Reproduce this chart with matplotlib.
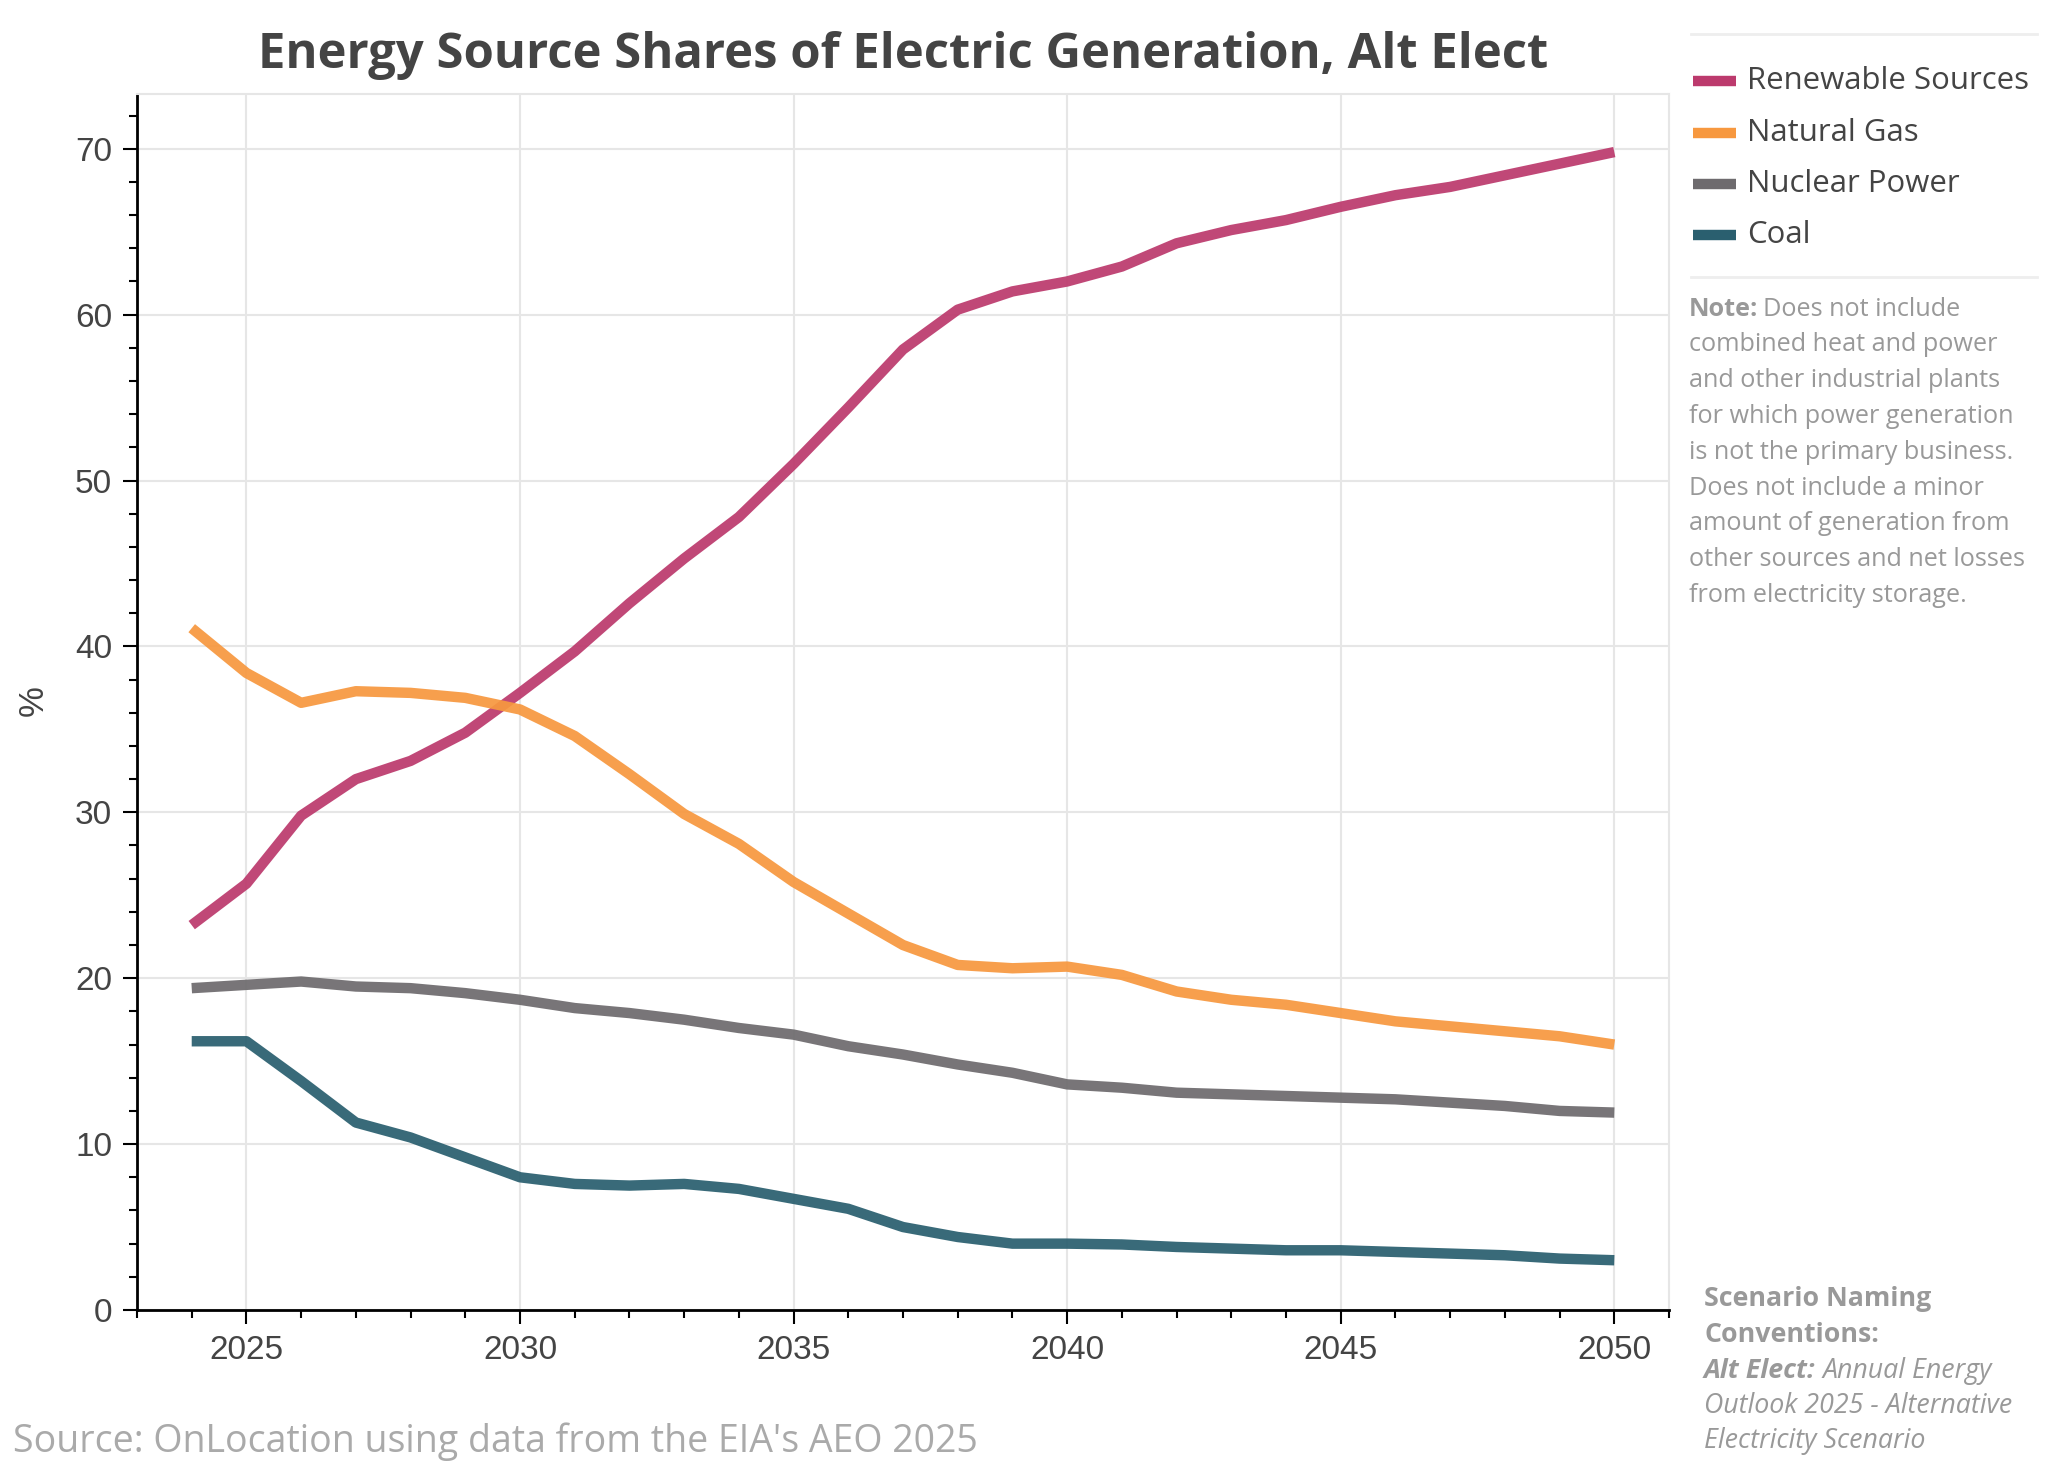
import matplotlib
matplotlib.use("Agg")
import matplotlib.pyplot as plt
from matplotlib.ticker import MultipleLocator

years = list(range(2024, 2051))

renewable = [23.2, 25.7, 29.8, 32.0, 33.1, 34.8, 37.2, 39.7, 42.6, 45.3, 47.8, 51.0, 54.4, 57.9,
             60.3, 61.4, 62.0, 62.9, 64.3, 65.1, 65.7, 66.5, 67.2, 67.7, 68.4, 69.1, 69.8]
natural_gas = [41.1, 38.4, 36.6, 37.3, 37.2, 36.9, 36.2, 34.6, 32.3, 29.9, 28.1, 25.8, 23.9, 22.0,
               20.8, 20.6, 20.7, 20.2, 19.2, 18.7, 18.4, 17.9, 17.4, 17.1, 16.8, 16.5, 16.0]
nuclear = [19.4, 19.6, 19.8, 19.5, 19.4, 19.1, 18.7, 18.2, 17.9, 17.5, 17.0, 16.6, 15.9, 15.4,
           14.8, 14.3, 13.6, 13.4, 13.1, 13.0, 12.9, 12.8, 12.7, 12.5, 12.3, 12.0, 11.9]
coal = [16.2, 16.2, 13.8, 11.3, 10.4, 9.2, 8.0, 7.6, 7.5, 7.6, 7.3, 6.7, 6.1, 5.0,
        4.4, 4.0, 4.0, 3.95, 3.8, 3.7, 3.6, 3.6, 3.5, 3.4, 3.3, 3.1, 3.0]

series_names = ["Renewable Sources", "Natural Gas", "Nuclear Power", "Coal"]
series_colors = ["#bc3a6d", "#f7983f", "#6e6b6e", "#2a5f6f"]

title = "Energy Source Shares of Electric Generation, Alt Elect"
source = "Source: OnLocation using data from the EIA's AEO 2025"
note_lines = ["Does not include", "combined heat and power", "and other industrial plants",
              "for which power generation", "is not the primary business.",
              "Does not include a minor", "amount of generation from",
              "other sources and net losses", "from electricity storage."]

W, H = 2048, 1474
fig = plt.figure(figsize=(W / 100, H / 100), dpi=100)
ax = fig.add_axes([137 / W, 1 - 1310 / H, (1669 - 137) / W, (1310 - 94) / H])

for vals, name, col in zip([renewable, natural_gas, nuclear, coal], series_names, series_colors):
    ax.plot(years, vals, color=col, lw=7.5, alpha=0.93, label=name, solid_capstyle="butt")

ax.set_xlim(2023, 2051)
ax.set_ylim(0, 73.3)
ax.xaxis.set_major_locator(MultipleLocator(5))
ax.xaxis.set_minor_locator(MultipleLocator(1))
ax.yaxis.set_major_locator(MultipleLocator(10))
ax.yaxis.set_minor_locator(MultipleLocator(2))
ax.grid(True, which="major", color="#e6e6e6", lw=1.5)
ax.set_axisbelow(True)
for s in ["top", "right"]:
    ax.spines[s].set_color("#e6e6e6")
    ax.spines[s].set_linewidth(1.5)
for s in ["left", "bottom"]:
    ax.spines[s].set_color("black")
    ax.spines[s].set_linewidth(2)
ax.tick_params(which="major", length=10, width=1.5, color="black", labelsize=24,
               labelcolor="#444444", pad=8)
ax.tick_params(which="minor", length=6, width=1.5, color="black")
for lab in ax.get_xticklabels() + ax.get_yticklabels():
    lab.set_family("Liberation Sans")
fig.text(33 / W, 1 - 701 / H, "%", rotation=90, ha="center", va="center", fontsize=25,
         color="#444444", family="Liberation Sans")

fig.text(903 / W, 1 - 55 / H, title, ha="center", va="center", fontsize=35.3,
         fontweight="bold", color="#444444", family="Open Sans")

# legend drawn manually on the right
leg_y = [81, 133, 184, 235]
for y, name, col in zip(leg_y, series_names, series_colors):
    fig.add_artist(plt.Line2D([1693 / W, 1736 / W], [1 - y / H, 1 - y / H],
                              color=col, lw=7.5, solid_capstyle="butt"))
    fig.text(1747 / W, 1 - y / H, name, ha="left", va="center", fontsize=22.4,
             color="#444444", family="Open Sans")
for y in [34, 277]:
    fig.add_artist(plt.Line2D([1691 / W, 2037 / W], [1 - y / H, 1 - y / H],
                              color="#eeeeee", lw=2))

# note block
fig.canvas.draw()
r = fig.canvas.get_renderer()
nfs = 18.2
nb = fig.text(1689 / W, 1 - 309 / H, "Note:", ha="left", va="center", fontsize=nfs,
              fontweight="bold", color="#999999", family="Open Sans")
wb = nb.get_window_extent(r).width
for i, line in enumerate(note_lines):
    x = (1689 + (wb + 5 if i == 0 else 0)) / W
    fig.text(x, 1 - (309 + 35.8 * i) / H, line, ha="left", va="center", fontsize=nfs,
             color="#999999", family="Open Sans")

# scenario conventions block
fs = 19.3
fig.text(1704 / W, 1 - 1299 / H, "Scenario Naming", ha="left", va="center", fontsize=fs,
         fontweight="bold", color="#999999", family="Open Sans")
fig.text(1704 / W, 1 - 1335 / H, "Conventions:", ha="left", va="center", fontsize=fs,
         fontweight="bold", color="#999999", family="Open Sans")
ae = fig.text(1704 / W, 1 - 1371 / H, "Alt Elect:", ha="left", va="center", fontsize=fs,
              fontweight="bold", style="italic", color="#999999", family="Open Sans")
wa = ae.get_window_extent(r).width
fig.text((1704 + wa + 7) / W, 1 - 1371 / H, "Annual Energy", ha="left", va="center",
         fontsize=fs, style="italic", color="#999999", family="Open Sans")
fig.text(1704 / W, 1 - 1406 / H, "Outlook 2025 - Alternative", ha="left", va="center",
         fontsize=fs, style="italic", color="#999999", family="Open Sans")
fig.text(1704 / W, 1 - 1441 / H, "Electricity Scenario", ha="left", va="center",
         fontsize=fs, style="italic", color="#999999", family="Open Sans")

fig.text(13 / W, 1 - 1442 / H, source, ha="left", va="center", fontsize=27,
         color="#aaaaaa", family="Open Sans")

fig.savefig("out.png", dpi=100)
